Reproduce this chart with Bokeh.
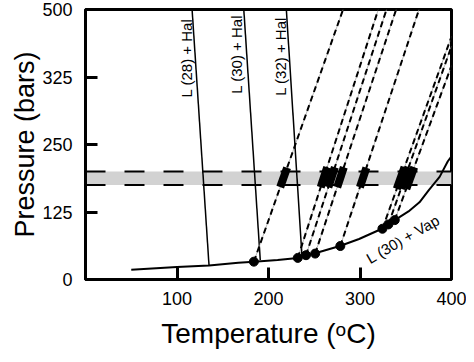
import numpy as np
from math import pi
from bokeh.plotting import figure
from bokeh.models import Range1d, FixedTicker, BoxAnnotation, Span, Title
from bokeh.core.properties import value
from bokeh.embed import file_html
from bokeh.resources import INLINE

FONT = "Liberation Sans"

# Liquid + vapour curve (30 wt%)
lv_T = [50, 100, 135, 167, 184, 210, 232, 250, 278, 299, 324, 338, 353, 365, 375, 387, 396, 400]
lv_P = [18, 23, 26, 31, 33, 36, 40, 48, 62, 75, 94, 110, 126, 143, 165, 190, 219, 228]

# Isochore start points (on L+V curve) and their end points
dot_T = [184, 232, 241, 251, 278.5, 324.5, 331, 338]
dot_P = [33, 40, 45, 48, 62, 94, 102, 110]
iso_end_T = [281.5, 320, 329, 339.5, 364.5, 400, 400, 400]
iso_end_P = [500, 500, 500, 500, 500, 450, 432, 396]

# Pressure ranges of the black bars along each isochore
bar_P_lo = [171, 171, 171, 171, 171, 168, 168, 168]
bar_P_hi = [207, 208, 208, 208, 207, 208, 208, 208]

# Halite saturation lines
hal_T_top = [116.5, 173, 219.5]
hal_P_top = [500, 500, 500]
hal_T_bot = [135, 191, 236.5]
hal_P_bot = [26, 36, 46]
hal_labels = ["L (28) + Hal", "L (30) + Hal", "L (32) + Hal"]
hal_label_T = [110, 165, 213]
hal_label_P = [410, 417, 413]

# Shaded pressure band
band_lo = 175
band_hi = 200

vap_label = "L (30) + Vap"
vap_label_T = 347
vap_label_P = 75

x_ticks = [0, 100, 200, 300, 400]
x_tick_labels = ["", "100", "200", "300", "400"]
y_ticks = [0, 125, 250, 375, 500]
y_tick_labels = ["0", "125", "250", "325", "500"]

p = figure(width=466, height=354, output_backend="svg", toolbar_location=None,
           x_range=Range1d(0, 400), y_range=Range1d(0, 500),
           min_border_left=85, min_border_right=15, min_border_top=9, min_border_bottom=75)
p.grid.visible = False
p.outline_line_color = "black"
p.outline_line_width = 3
p.background_fill_color = "white"
p.border_fill_color = "white"

for ax in (p.xaxis[0], p.yaxis[0]):
    ax.axis_line_width = 3
    ax.axis_line_color = "black"
    ax.major_tick_in = 12
    ax.major_tick_out = 0
    ax.major_tick_line_width = 3
    ax.major_tick_line_color = "black"
    ax.minor_tick_line_color = None
    ax.major_label_text_font = FONT
    ax.major_label_text_font_size = "18px"
    ax.major_label_text_color = "black"

p.xaxis.ticker = FixedTicker(ticks=x_ticks)
p.xaxis.major_label_overrides = {t: l for t, l in zip(x_ticks, x_tick_labels)}
p.yaxis.ticker = FixedTicker(ticks=y_ticks)
p.yaxis.major_label_overrides = {t: l for t, l in zip(y_ticks, y_tick_labels)}
p.xaxis.major_label_standoff = 12
p.yaxis.major_label_standoff = 13

p.xaxis.axis_label = "Temperature (\u1d52C)"
p.xaxis.axis_label_text_font = FONT
p.xaxis.axis_label_text_font_size = "28px"
p.xaxis.axis_label_text_font_style = "normal"
p.xaxis.axis_label_text_color = "black"
p.xaxis.axis_label_standoff = 10

p.add_layout(Title(text="Pressure (bars)", align="center", offset=20, standoff=0,
                   text_font=FONT, text_font_size="27px", text_font_style="normal",
                   text_color="black"), "left")

# shaded band and its dashed borders
p.add_layout(BoxAnnotation(bottom=band_lo, top=band_hi, fill_color="#d2d2d2", fill_alpha=1,
                           line_color=None, level="underlay"))
for loc in (band_lo, band_hi):
    p.add_layout(Span(location=loc, dimension="width", line_color="black", line_width=2,
                      line_dash="20 19", level="underlay"))

# halite lines
p.segment(x0=hal_T_top, y0=hal_P_top, x1=hal_T_bot, y1=hal_P_bot, line_color="black", line_width=1.5)

# L+V curve
p.line(lv_T, lv_P, line_color="black", line_width=2)

# isochores
p.segment(x0=dot_T, y0=dot_P, x1=iso_end_T, y1=iso_end_P, line_color="#9a9a9a", line_width=0.7)
p.segment(x0=dot_T, y0=dot_P, x1=iso_end_T, y1=iso_end_P, line_color="black", line_width=2,
          line_dash="6 4")

# bars along isochores
T0 = np.array(dot_T, float); P0 = np.array(dot_P, float)
T1 = np.array(iso_end_T, float); P1 = np.array(iso_end_P, float)
lo = np.array(bar_P_lo, float); hi = np.array(bar_P_hi, float)
bx0 = T0 + (lo - P0) / (P1 - P0) * (T1 - T0)
bx1 = T0 + (hi - P0) / (P1 - P0) * (T1 - T0)
p.segment(x0=bx0, y0=lo, x1=bx1, y1=hi, line_color="black", line_width=8, line_cap="butt")

# dots
p.scatter(dot_T, dot_P, size=9, color="black")

# labels
p.text(x=hal_label_T, y=hal_label_P, text=hal_labels, angle=pi / 2, text_align="center",
       text_baseline="middle", text_font=value(FONT), text_font_size="15px", text_color="black")
p.text(x=[vap_label_T], y=[vap_label_P], text=[vap_label], angle=30 * pi / 180, text_align="center",
       text_baseline="middle", text_font=value(FONT), text_font_size="15px", text_color="black")

open("out.html", "w").write(file_html(p, INLINE))
